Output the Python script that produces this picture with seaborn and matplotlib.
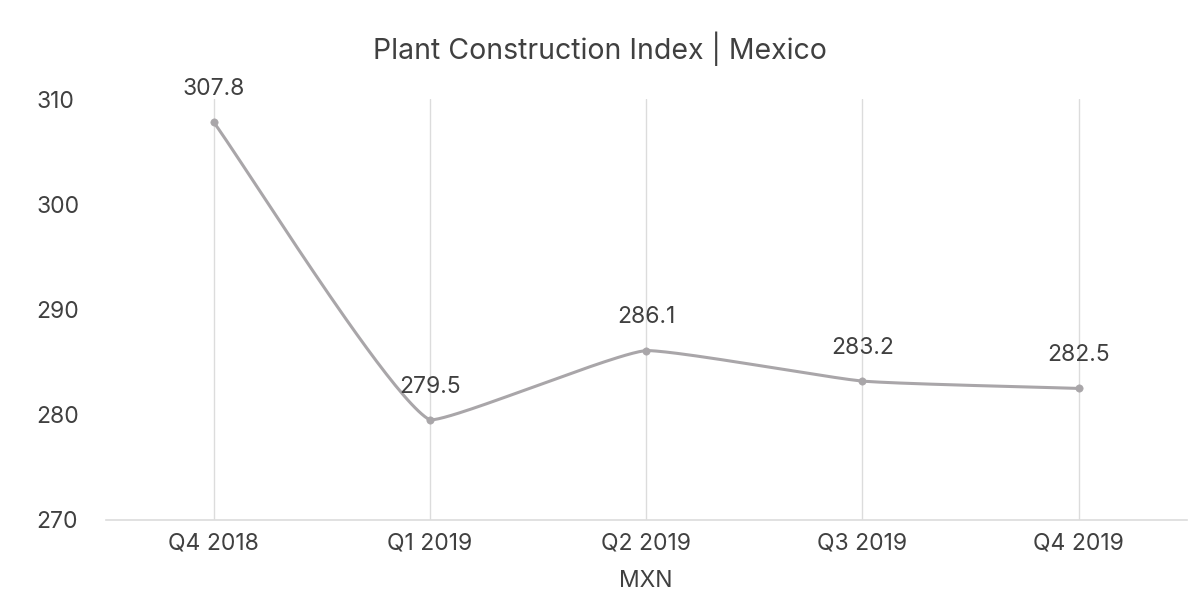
import numpy as np
import pandas as pd
import matplotlib
matplotlib.use("Agg")
import matplotlib.pyplot as plt
import seaborn as sns

categories = ["Q4 2018", "Q1 2019", "Q2 2019", "Q3 2019", "Q4 2019"]
values = [307.8, 279.5, 286.1, 283.2, 282.5]
y_ticks = [270, 280, 290, 300, 310]
title = "Plant Construction Index | Mexico"
x_label = "MXN"

sns.set_theme(style="white")
plt.rcParams["font.family"] = ["Inter", "DejaVu Sans"]

TEXT = "#404040"
LINE = "#a9a6a9"
GRID = "#dcdcdc"

df = pd.DataFrame({"x": np.arange(len(categories)), "value": values})


def spline_path(x, y, tension=0.15, xscale=216.5, yscale=10.53, n=50):
    # light spline smoothing computed in pixel space, control points clamped
    P = np.column_stack([np.asarray(x, float) * xscale, np.asarray(y, float) * yscale])
    k = len(P)
    prev_c = P.copy()
    next_c = P.copy()
    for i in range(k):
        p0 = P[max(i - 1, 0)]
        p1 = P[i]
        p2 = P[min(i + 1, k - 1)]
        d01 = np.hypot(*(p1 - p0))
        d12 = np.hypot(*(p2 - p1))
        tot = d01 + d12
        if tot == 0:
            continue
        fa = tension * d01 / tot
        fb = tension * d12 / tot
        prev_c[i] = p1 - fa * (p2 - p0)
        next_c[i] = p1 + fb * (p2 - p0)
        lo0, hi0 = sorted([p0[1], p1[1]])
        lo2, hi2 = sorted([p1[1], p2[1]])
        prev_c[i, 1] = np.clip(prev_c[i, 1], lo0, hi0)
        next_c[i, 1] = np.clip(next_c[i, 1], lo2, hi2)
    pts = []
    for i in range(k - 1):
        t = np.linspace(0, 1, n, endpoint=(i == k - 2))[:, None]
        b = ((1 - t) ** 3) * P[i] + 3 * ((1 - t) ** 2) * t * next_c[i] \
            + 3 * (1 - t) * t ** 2 * prev_c[i + 1] + t ** 3 * P[i + 1]
        pts.append(b)
    pts = np.vstack(pts)
    return pts[:, 0] / xscale, pts[:, 1] / yscale


sx, sy = spline_path(df["x"], df["value"])
smooth = pd.DataFrame({"x": sx, "value": sy})

fig = plt.figure(figsize=(12, 6.15), dpi=100)
ax = fig.add_axes([0.088, 0.1545, 0.901, 0.6845])

for i in range(len(categories)):
    ax.axvline(i, color=GRID, lw=1, zorder=0)

sns.lineplot(data=smooth, x="x", y="value", ax=ax, color=LINE, lw=2.2, zorder=3, sort=False)
sns.scatterplot(data=df, x="x", y="value", ax=ax, color=LINE, s=28, edgecolor=LINE, zorder=4)

for i, v in enumerate(values):
    ax.text(i, v + 2.1, f"{v:.1f}", ha="center", va="bottom", fontsize=16.5, color=TEXT, zorder=5)

ax.set_xlim(-0.5, len(categories) - 0.5)
ax.set_ylim(270, 310)
ax.set_yticks(y_ticks)
ax.set_yticklabels([str(t) for t in y_ticks], fontsize=16.5, color=TEXT)
ax.set_xticks(range(len(categories)))
ax.set_xticklabels(categories, fontsize=16.5, color=TEXT)
ax.tick_params(axis="both", length=0)
ax.tick_params(axis="x", pad=9)
ax.tick_params(axis="y", pad=50)
for lab in ax.get_yticklabels():
    lab.set_horizontalalignment("left")
ax.set_xlabel(x_label, fontsize=16.5, color=TEXT, labelpad=11)
ax.set_ylabel("")
ax.grid(False)
for s in ["top", "right", "left"]:
    ax.spines[s].set_visible(False)
ax.spines["bottom"].set_color(GRID)
ax.spines["bottom"].set_linewidth(1.2)
ax.spines["bottom"].set_zorder(1)

fig.text(0.5, 0.92, title, ha="center", va="center", fontsize=20.5, color=TEXT)

fig.savefig("out.png", dpi=100, facecolor="white")
